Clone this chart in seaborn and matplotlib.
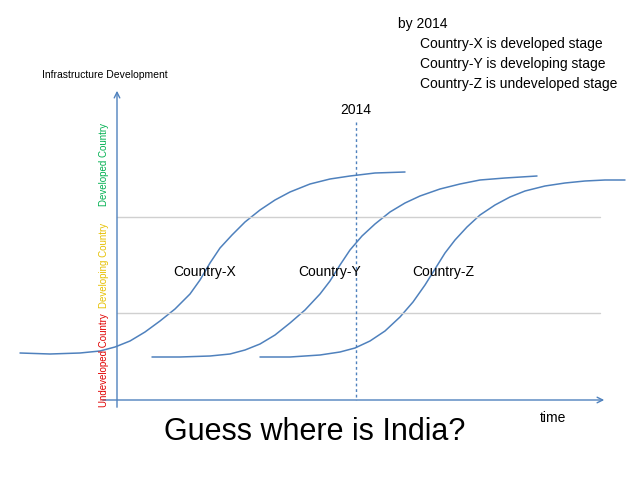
import matplotlib
matplotlib.use("Agg")
import matplotlib.pyplot as plt
import seaborn as sns
import pandas as pd

sns.set_style("white")
plt.rcParams['font.family'] = ['Liberation Sans', 'DejaVu Sans']
plt.rcParams['text.color'] = 'black'

x_X = [20, 50, 80, 100, 115, 130, 145, 160, 175, 190, 200, 210, 220, 232, 245, 260, 275, 290, 310, 330, 350, 375, 405]
y_X = [353, 354, 353, 351, 347, 341, 332, 321, 309, 294, 280, 263, 248, 235, 222, 210, 200, 192, 184, 179, 176, 173, 172]
x_Y = [152, 180, 210, 230, 245, 260, 275, 290, 305, 320, 330, 340, 350, 362, 375, 390, 405, 420, 440, 460, 480, 505, 537]
y_Y = [357, 357, 356, 354, 350, 344, 335, 323, 310, 294, 281, 265, 250, 236, 224, 212, 203, 196, 189, 184, 180, 178, 176]
x_Z = [260, 290, 320, 340, 355, 370, 385, 400, 413, 425, 435, 445, 455, 467, 480, 495, 510, 525, 545, 565, 585, 605, 625]
y_Z = [357, 357, 355, 352, 348, 341, 331, 317, 302, 285, 269, 253, 240, 227, 215, 205, 197, 191, 186, 183, 181, 180, 180]
curve_labels = ["Country-X", "Country-Y", "Country-Z"]
stage_labels = ["Developed Country", "Developing Country", "Undeveloped Country"]
stage_colors = ["#00b050", "#e6c000", "#e00000"]

fig = plt.figure(figsize=(6.38, 4.79), dpi=100)
ax = fig.add_axes([0, 0, 1, 1])
c = "#4f81bd"
for xs, ys in [(x_X, y_X), (x_Y, y_Y), (x_Z, y_Z)]:
    df = pd.DataFrame({"x": xs, "y": ys})
    sns.lineplot(data=df, x="x", y="y", sort=False, ax=ax, color=c, lw=1.1)
ax.set_xlim(0, 638); ax.set_ylim(479, 0); ax.axis("off")

ax.annotate("", xy=(117, 88), xytext=(117, 410), arrowprops=dict(arrowstyle="->", color=c, lw=1))
ax.annotate("", xy=(607, 400), xytext=(100, 400), arrowprops=dict(arrowstyle="->", color=c, lw=1))
for yy in (217, 313):
    ax.plot([117, 600], [yy, yy], color="#d0d0d0", lw=1)
ax.plot([356, 356], [122, 400], color=c, lw=1, ls=(0, (2, 2)))

ax.text(42, 75, "Infrastructure Development", fontsize=7.5, va="center")
ax.text(356, 110, "2014", fontsize=10, ha="center", va="center")
ax.text(398, 24, "by 2014", fontsize=10, va="center")
for k, t in enumerate(["Country-X is developed stage", "Country-Y is developing stage", "Country-Z is undeveloped stage"]):
    ax.text(420, 44 + k * 20, t, fontsize=10, va="center")
for t, xx in zip(curve_labels, [205, 330, 443]):
    ax.text(xx, 272, t, fontsize=10, ha="center", va="center")
for t, col, yy in zip(stage_labels, stage_colors, [165, 265, 360]):
    ax.text(104, yy, t, fontsize=7, color=col, rotation=90, ha="center", va="center")
ax.text(553, 418, "time", fontsize=10, ha="center", va="center")
ax.text(315, 432, "Guess where is India?", fontsize=22, ha="center", va="center")
fig.savefig("out.png", dpi=100)
